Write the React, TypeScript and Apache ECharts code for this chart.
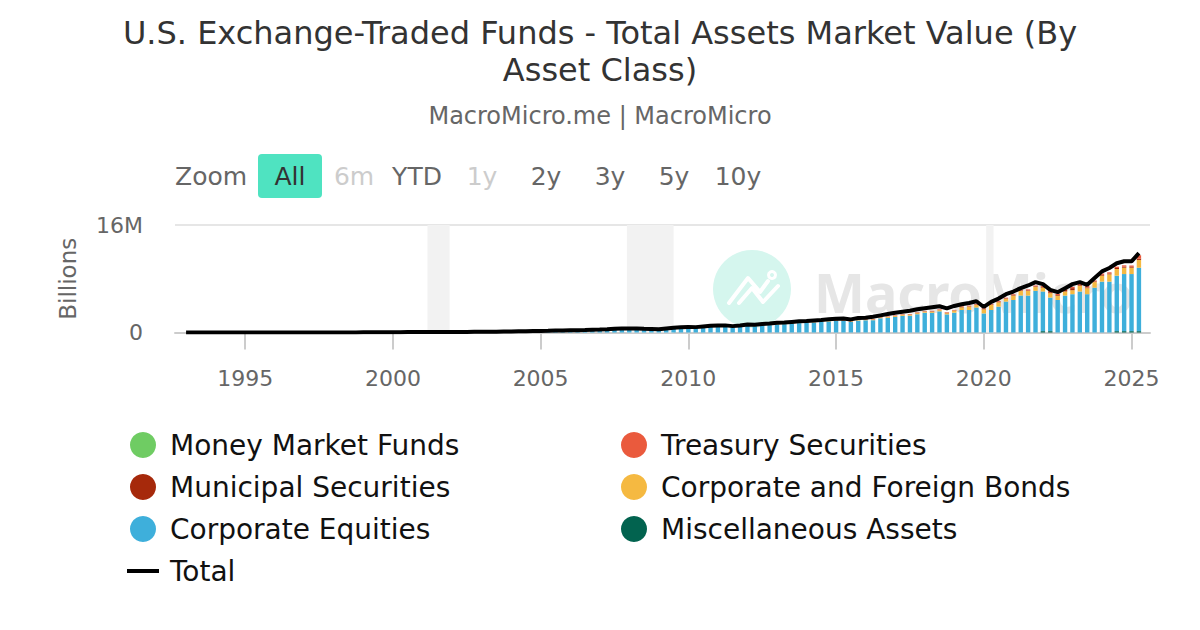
import React, { useEffect, useRef } from "react";
import * as echarts from "echarts";

// Quarterly observations, first point = 1993 Q1, one value per quarter (values in M)
const START_YEAR = 1993;

const totalAssets = [
  0.0003, 0.0004, 0.0005, 0.0005, // 1993
  0.0005, 0.0005, 0.0004, 0.0004, // 1994
  0.0006, 0.0008, 0.001, 0.0011, // 1995
  0.0014, 0.0017, 0.002, 0.0024, // 1996
  0.003, 0.0042, 0.0055, 0.0067, // 1997
  0.009, 0.011, 0.012, 0.0156, // 1998
  0.02, 0.024, 0.027, 0.034, // 1999
  0.045, 0.052, 0.06, 0.066, // 2000
  0.068, 0.078, 0.074, 0.083, // 2001
  0.09, 0.088, 0.085, 0.102, // 2002
  0.105, 0.12, 0.13, 0.151, // 2003
  0.165, 0.18, 0.195, 0.228, // 2004
  0.24, 0.255, 0.28, 0.301, // 2005
  0.33, 0.35, 0.38, 0.423, // 2006
  0.45, 0.5, 0.56, 0.608, // 2007
  0.58, 0.6, 0.56, 0.531, // 2008
  0.5, 0.6, 0.7, 0.777, // 2009
  0.83, 0.8, 0.9, 0.992, // 2010
  1.05, 1.06, 0.95, 1.048, // 2011
  1.18, 1.15, 1.25, 1.337, // 2012
  1.45, 1.48, 1.58, 1.675, // 2013
  1.72, 1.8, 1.85, 1.975, // 2014
  2.05, 2.07, 1.95, 2.15, // 2015
  2.2, 2.35, 2.55, 2.75, // 2016
  2.95, 3.1, 3.25, 3.45, // 2017
  3.6, 3.75, 3.9, 3.6, // 2018
  3.95, 4.2, 4.4, 4.65, // 2019
  3.8, 4.55, 5.05, 5.7, // 2020
  6.1, 6.6, 7.0, 7.5, // 2021
  7.2, 6.35, 6.0, 6.6, // 2022
  7.2, 7.5, 7.1, 8.1, // 2023
  9.1, 9.6, 10.3, 10.6, // 2024
  10.6, 11.8, // 2025
];

const corporateEquities = [
  0.0003, 0.0004, 0.0005, 0.0005,
  0.0005, 0.0005, 0.0004, 0.0004,
  0.0006, 0.0008, 0.001, 0.0011,
  0.0014, 0.0017, 0.002, 0.0024,
  0.003, 0.0042, 0.0055, 0.0067,
  0.009, 0.011, 0.012, 0.0155,
  0.02, 0.024, 0.027, 0.034,
  0.045, 0.052, 0.06, 0.066,
  0.068, 0.078, 0.074, 0.083,
  0.088, 0.085, 0.08, 0.095,
  0.098, 0.11, 0.118, 0.138,
  0.15, 0.163, 0.177, 0.207,
  0.218, 0.231, 0.254, 0.273,
  0.299, 0.316, 0.343, 0.381,
  0.404, 0.447, 0.499, 0.54,
  0.512, 0.528, 0.488, 0.45,
  0.42, 0.508, 0.594, 0.655,
  0.7, 0.668, 0.752, 0.832,
  0.88, 0.885, 0.782, 0.867,
  0.98, 0.948, 1.035, 1.108,
  1.21, 1.25, 1.32, 1.4,
  1.435, 1.5, 1.56, 1.645,
  1.71, 1.72, 1.58, 1.78,
  1.82, 1.83, 2.12, 2.18,
  2.32, 2.48, 2.5, 2.72,
  2.94, 2.93, 3.15, 2.7,
  2.95, 3.35, 3.35, 3.72,
  2.84, 3.35, 3.85, 4.6,
  4.84, 5.5, 5.5, 6.2,
  5.9, 5.0, 4.84, 5.5,
  5.7, 6.1, 5.7, 6.67,
  7.57, 7.57, 8.26, 8.5,
  8.5, 9.44,
];

const corporateForeignBonds = [
  0, 0, 0, 0, 0, 0, 0, 0, 0, 0, 0, 0, // 1993-1995
  0, 0, 0, 0, 0, 0, 0, 0, 0, 0, 0, 0, // 1996-1998
  0, 0, 0, 0, 0, 0, 0, 0, 0, 0, 0, 0, // 1999-2001
  0.001, 0.002, 0.004, 0.005,
  0.005, 0.006, 0.008, 0.009,
  0.01, 0.011, 0.012, 0.013,
  0.014, 0.015, 0.016, 0.017,
  0.018, 0.019, 0.021, 0.023,
  0.025, 0.028, 0.031, 0.035,
  0.036, 0.038, 0.039, 0.04,
  0.042, 0.046, 0.05, 0.054,
  0.057, 0.059, 0.062, 0.064,
  0.066, 0.068, 0.068, 0.07,
  0.072, 0.074, 0.076, 0.078,
  0.08, 0.078, 0.08, 0.082,
  0.084, 0.086, 0.088, 0.09,
  0.092, 0.094, 0.092, 0.096,
  0.1, 0.11, 0.12, 0.125,
  0.13, 0.14, 0.15, 0.16,
  0.17, 0.18, 0.19, 0.18,
  0.3, 0.4, 0.5, 0.38,
  0.6, 0.75, 0.65, 0.4,
  0.66, 0.7, 0.7, 0.6,
  0.6, 0.65, 0.64, 0.6,
  0.6, 0.87, 0.9, 0.83,
  0.89, 1.09, 0.99, 0.95,
  0.95, 1.16,
];

const treasurySecurities = [
  0, 0, 0, 0, 0, 0, 0, 0, 0, 0, 0, 0,
  0, 0, 0, 0, 0, 0, 0, 0, 0, 0, 0, 0,
  0, 0, 0, 0, 0, 0, 0, 0, 0, 0, 0, 0,
  0.001, 0.001, 0.001, 0.002,
  0.002, 0.003, 0.003, 0.003,
  0.004, 0.004, 0.004, 0.005,
  0.005, 0.005, 0.006, 0.006,
  0.007, 0.007, 0.008, 0.009,
  0.01, 0.011, 0.012, 0.014,
  0.016, 0.018, 0.02, 0.024,
  0.022, 0.024, 0.026, 0.028,
  0.03, 0.032, 0.034, 0.036,
  0.037, 0.038, 0.04, 0.04,
  0.041, 0.042, 0.043, 0.044,
  0.044, 0.043, 0.044, 0.045,
  0.046, 0.047, 0.048, 0.049,
  0.05, 0.05, 0.052, 0.052,
  0.054, 0.056, 0.058, 0.06,
  0.062, 0.064, 0.066, 0.068,
  0.07, 0.072, 0.075, 0.08,
  0.08, 0.1, 0.1, 0.1,
  0.12, 0.12, 0.12, 0.12,
  0.12, 0.12, 0.14, 0.12,
  0.14, 0.2, 0.15, 0.2,
  0.2, 0.15, 0.25, 0.15,
  0.2, 0.18, 0.2, 0.2,
  0.2, 0.5,
];

const municipalSecurities = [
  0, 0, 0, 0, 0, 0, 0, 0, 0, 0, 0, 0, 0, 0, 0, 0, // 1993-1996
  0, 0, 0, 0, 0, 0, 0, 0, 0, 0, 0, 0, 0, 0, 0, 0, // 1997-2000
  0, 0, 0, 0, 0, 0, 0, 0, 0, 0, 0, 0, 0, 0, 0, 0, // 2001-2004
  0, 0, 0, 0, 0, 0, 0, 0, // 2005-2006
  0.001, 0.002, 0.003, 0.004,
  0.005, 0.006, 0.007, 0.008,
  0.009, 0.01, 0.011, 0.012,
  0.013, 0.014, 0.015, 0.016,
  0.017, 0.018, 0.019, 0.02,
  0.021, 0.022, 0.023, 0.024,
  0.024, 0.022, 0.022, 0.022,
  0.023, 0.024, 0.025, 0.026,
  0.027, 0.028, 0.029, 0.03,
  0.032, 0.034, 0.036, 0.036,
  0.038, 0.04, 0.042, 0.044,
  0.045, 0.046, 0.047, 0.048,
  0.04, 0.05, 0.05, 0.05,
  0.05, 0.06, 0.06, 0.07,
  0.07, 0.08, 0.08, 0.08,
  0.08, 0.15, 0.1, 0.3,
  0.3, 0.1, 0.1, 0.1,
  0.12, 0.12, 0.15, 0.15,
  0.12, 0.2,
];

const miscellaneousAssets = [
  0, 0, 0, 0, 0, 0, 0, 0, 0, 0, 0, 0, 0, 0, 0, 0, // 1993-1996
  0, 0, 0, 0, 0, 0, 0, 0, 0, 0, 0, 0, 0, 0, 0, 0, // 1997-2000
  0, 0, 0, 0, 0, 0, 0, 0, 0, 0, 0, 0, 0, 0, 0, 0, // 2001-2004
  0, 0, 0, 0, 0, 0, 0, 0, 0, 0, 0, 0, 0, 0, 0, 0, // 2005-2008
  0, 0, 0, 0, 0, 0, 0, 0, 0, 0, 0, 0, 0, 0, 0, 0, // 2009-2012
  0, 0, 0, 0, 0, 0, 0, 0, 0, 0, 0, 0, 0, 0, 0, 0, // 2013-2016
  0, 0, 0, 0, 0, 0, 0, 0, 0, 0, 0, 0, 0, 0, 0, 0, // 2017-2020
  0, 0, 0, 0, // 2021
  0.2, 0.2, 0, 0, // 2022
  0, 0, 0, 0, // 2023
  0, 0, 0.2, 0.2, // 2024
  0.2, 0.2, // 2025
];

const moneyMarketFunds = [
  0, 0, 0, 0, 0, 0, 0, 0, 0, 0, 0, 0, 0, 0, 0, 0,
  0, 0, 0, 0, 0, 0, 0, 0, 0, 0, 0, 0, 0, 0, 0, 0,
  0, 0, 0, 0, 0, 0, 0, 0, 0, 0, 0, 0, 0, 0, 0, 0,
  0, 0, 0, 0, 0, 0, 0, 0, 0, 0, 0, 0, 0, 0, 0, 0,
  0, 0, 0, 0, 0, 0, 0, 0, 0, 0, 0, 0, 0, 0, 0, 0,
  0, 0, 0, 0, 0, 0, 0, 0, 0, 0, 0, 0, 0, 0, 0, 0,
  0, 0, 0, 0, 0, 0, 0, 0, 0, 0, 0, 0, 0, 0, 0, 0,
  0, 0, 0, 0, 0, 0, 0, 0, 0, 0, 0, 0, 0, 0, 0, 0,
  0, 0,
];

const xTickYears = [1995, 2000, 2005, 2010, 2015, 2020, 2025];
const yTickValues = [0, 16];
const recessionPeriods = [
  [2001.17, 2001.92],
  [2007.92, 2009.5],
  [2020.08, 2020.33],
];
const zoomButtons = ["All", "6m", "YTD", "1y", "2y", "3y", "5y", "10y"];

const COLORS = {
  mmf: "#6fcc63",
  treasury: "#ea5a3d",
  muni: "#a6290b",
  bonds: "#f5b941",
  equities: "#3eafdb",
  misc: "#02634f",
};

const FONT = "DejaVu Sans";

// One empty quarter of padding on each side of the data
const N = totalAssets.length;
const quarterCategories: string[] = [];
for (let i = -1; i <= N; i++) {
  const q = START_YEAR * 4 + i;
  quarterCategories.push(Math.floor(q / 4) + "Q" + ((q % 4) + 1));
}
const X_MIN = START_YEAR - 0.375;
const X_MAX = START_YEAR + (N + 0.5) * 0.25;

function padBars(values: number[]) {
  return [null, ...values, null];
}
function toPairs(values: number[]) {
  return values.map((v, i) => [START_YEAR + i / 4, v]);
}

export default function App() {
  const ref = useRef<HTMLDivElement>(null);

  useEffect(() => {
    if (!ref.current) return;
    const chart = echarts.init(ref.current, null, { renderer: "svg" });

    const barBase = {
      type: "bar",
      stack: "assets",
      barWidth: 4.4,
      xAxisIndex: 0,
      z: 2,
    };

    const btnX = [290, 354, 417, 482, 546, 610, 674, 738];
    const btnColor = ["#333", "#cccccc", "#666", "#cccccc", "#666", "#666", "#666", "#666"];

    const legendText = {
      fontSize: 28,
      lineHeight: 26,
      color: "#111111",
      fontFamily: FONT,
      padding: [0, 0, 0, 6],
    };

    const option: any = {
      animation: false,
      textStyle: { fontFamily: FONT },
      title: [
        {
          text: "U.S. Exchange-Traded Funds - Total Assets Market Value (By\nAsset Class)",
          left: "center",
          top: 9,
          textStyle: {
            fontSize: 32,
            lineHeight: 37,
            color: "#333333",
            fontWeight: "normal",
            fontFamily: FONT,
          },
        },
        {
          text: "MacroMicro.me | MacroMicro",
          left: "center",
          top: 97,
          textStyle: {
            fontSize: 24,
            lineHeight: 28,
            color: "#666666",
            fontWeight: "normal",
            fontFamily: FONT,
          },
        },
      ],
      grid: { left: 175, right: 50, top: 225, bottom: 297.5 },
      xAxis: [
        {
          type: "category",
          position: "bottom",
          data: quarterCategories,
          boundaryGap: true,
          show: false,
        },
        {
          type: "value",
          position: "bottom",
          min: X_MIN,
          max: X_MAX,
          axisLine: { show: true, onZero: false, lineStyle: { color: "#cccccc", width: 2 } },
          axisTick: {
            show: true,
            length: 17,
            lineStyle: { color: "#cccccc", width: 2 },
            customValues: xTickYears,
          },
          axisLabel: {
            customValues: xTickYears,
            color: "#666666",
            fontSize: 22,
            margin: 35,
            formatter: (v: number) => String(v),
          },
          splitLine: { show: false },
        },
      ],
      yAxis: {
        type: "value",
        min: yTickValues[0],
        max: yTickValues[1],
        interval: yTickValues[1] - yTickValues[0],
        name: "Billions",
        nameLocation: "middle",
        nameRotate: 90,
        nameGap: 96,
        nameTextStyle: { color: "#666666", fontSize: 23, fontFamily: FONT },
        axisLine: { show: false },
        axisTick: { show: false },
        axisLabel: {
          color: "#666666",
          fontSize: 22,
          margin: 32,
          formatter: (v: number) => (v === 0 ? "0" : v + "M"),
        },
        splitLine: { lineStyle: { color: "#e6e6e6", width: 2 } },
      },
      legend: [
        {
          orient: "vertical",
          left: 122,
          top: 426,
          itemWidth: 32,
          itemHeight: 26,
          itemGap: 14,
          selectedMode: false,
          textStyle: legendText,
          data: [
            { name: "Money Market Funds", icon: "circle" },
            { name: "Municipal Securities", icon: "circle" },
            { name: "Corporate Equities", icon: "circle" },
            {
              name: "Total",
              icon: "path://M0,0L0.01,0M0,11L32,11L32,15L0,15ZM32,26L31.99,26",
            },
          ],
        },
        {
          orient: "vertical",
          left: 616,
          top: 426,
          itemWidth: 32,
          itemHeight: 26,
          itemGap: 14,
          selectedMode: false,
          textStyle: legendText,
          data: [
            { name: "Treasury Securities", icon: "circle" },
            { name: "Corporate and Foreign Bonds", icon: "circle" },
            { name: "Miscellaneous Assets", icon: "circle" },
          ],
        },
      ],
      graphic: [
        // watermark
        {
          type: "circle",
          silent: true,
          z: 0,
          shape: { cx: 752, cy: 289, r: 39 },
          style: { fill: "#d5f6ee" },
        },
        {
          type: "polyline",
          silent: true,
          z: 0,
          shape: { points: [[729, 303], [748, 278], [760, 292], [768, 281]] },
          style: { stroke: "#ffffff", lineWidth: 4, fill: null, lineCap: "round", lineJoin: "round" },
        },
        {
          type: "polyline",
          silent: true,
          z: 0,
          shape: { points: [[739, 303], [752, 288], [763, 302], [778, 286]] },
          style: { stroke: "#ffffff", lineWidth: 4, fill: null, lineCap: "round", lineJoin: "round" },
        },
        {
          type: "circle",
          silent: true,
          z: 0,
          shape: { cx: 772, cy: 275, r: 3.5 },
          style: { fill: "none", stroke: "#ffffff", lineWidth: 3 },
        },
        {
          type: "text",
          silent: true,
          z: 0,
          x: 814,
          y: 292,
          style: {
            text: "MacroMicro",
            fontSize: 54,
            fontWeight: "bold",
            fontFamily: "Noto Sans",
            fill: "#e6e6e6",
            align: "left",
            verticalAlign: "middle",
          },
        },
        // range selector
        {
          type: "text",
          x: 175,
          y: 176,
          style: {
            text: "Zoom",
            fontSize: 25,
            fontFamily: FONT,
            fill: "#666666",
            align: "left",
            verticalAlign: "middle",
          },
        },
        {
          type: "rect",
          shape: { x: 258, y: 154, width: 64, height: 44, r: 4 },
          style: { fill: "#4fe3c1" },
        },
        ...zoomButtons.map((label, i) => ({
          type: "text",
          x: btnX[i],
          y: 176,
          style: {
            text: label,
            fontSize: 25,
            fontFamily: FONT,
            fill: btnColor[i],
            align: "center",
            verticalAlign: "middle",
          },
        })),
      ],
      series: [
        {
          ...barBase,
          name: "Miscellaneous Assets",
          itemStyle: { color: COLORS.misc },
          data: padBars(miscellaneousAssets),
        },
        {
          ...barBase,
          name: "Corporate Equities",
          itemStyle: { color: COLORS.equities },
          data: padBars(corporateEquities),
        },
        {
          ...barBase,
          name: "Corporate and Foreign Bonds",
          itemStyle: { color: COLORS.bonds },
          data: padBars(corporateForeignBonds),
        },
        {
          ...barBase,
          name: "Municipal Securities",
          itemStyle: { color: COLORS.muni },
          data: padBars(municipalSecurities),
        },
        {
          ...barBase,
          name: "Treasury Securities",
          itemStyle: { color: COLORS.treasury },
          data: padBars(treasurySecurities),
        },
        {
          ...barBase,
          name: "Money Market Funds",
          itemStyle: { color: COLORS.mmf },
          data: padBars(moneyMarketFunds),
        },
        {
          type: "line",
          name: "Total",
          xAxisIndex: 1,
          z: 5,
          symbol: "none",
          showSymbol: false,
          color: "#000000",
          lineStyle: { color: "#000000", width: 4 },
          data: toPairs(totalAssets),
          markArea: {
            silent: true,
            z: 1,
            itemStyle: { color: "#f2f2f2" },
            data: recessionPeriods.map((p) => [{ xAxis: p[0] }, { xAxis: p[1] }]),
          },
        },
      ],
    };

    chart.setOption(option);
    return () => chart.dispose();
  }, []);

  return (
    <div
      ref={ref}
      style={{ position: "fixed", left: 0, top: 0, width: 1200, height: 630, background: "#ffffff" }}
    />
  );
}
